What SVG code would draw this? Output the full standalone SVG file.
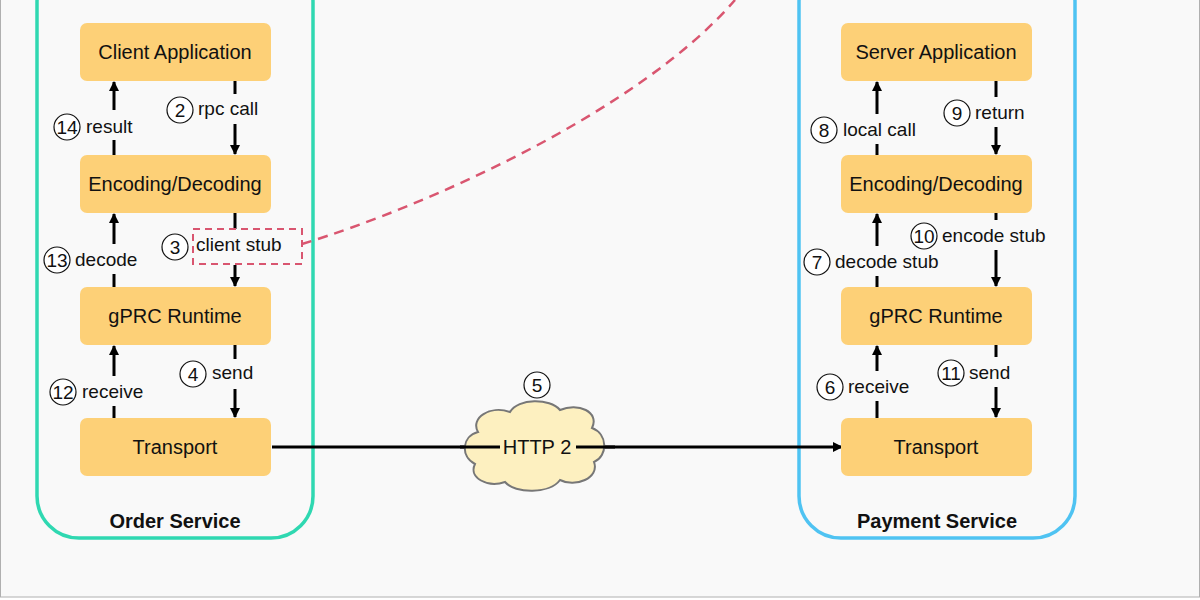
<svg xmlns="http://www.w3.org/2000/svg" width="1200" height="600" viewBox="0 0 1200 600">
<defs>
<marker id="ah" markerWidth="10" markerHeight="10" refX="9" refY="5" orient="auto" markerUnits="userSpaceOnUse"><path d="M0,0 L10,5 L0,10 Z" fill="#000"/></marker>
<style>
.box{fill:#fdd077;}
.bt{font-family:"Liberation Sans",Arial,sans-serif;font-size:20px;text-anchor:middle;fill:#111;}
.lb{font-family:"Liberation Sans",Arial,sans-serif;font-size:19px;fill:#111;}
.num{font-family:"Liberation Sans",Arial,sans-serif;font-size:19px;text-anchor:middle;fill:#111;}
.nc{fill:#fff;stroke:#111;stroke-width:1.2;}
.ar{stroke:#000;stroke-width:3;fill:none;marker-end:url(#ah);}
.ttl{font-family:"Liberation Sans",Arial,sans-serif;font-size:20px;font-weight:bold;text-anchor:middle;fill:#111;}
.bg{fill:#f9f9f9;}
</style>
</defs>
<rect x="0.5" y="-5" width="1199" height="602" fill="#f9f9f9" stroke="#b0b0b0"/>
<g id="order-service"><rect x="37" y="-40" width="276" height="578" rx="42" fill="#fff" fill-opacity="0" stroke="#2fd8b1" stroke-width="3.5"/><text class="ttl" x="175" y="528">Order Service</text></g>
<g id="payment-service"><rect x="799" y="-40" width="276" height="578" rx="42" fill="none" stroke="#4fc3f2" stroke-width="3.5"/><text class="ttl" x="937" y="528">Payment Service</text></g>
<g id="connectors">
<line class="ar" x1="114" y1="155" x2="114" y2="82"/>
<line class="ar" x1="235" y1="81" x2="235" y2="154"/>
<line class="ar" x1="114" y1="287" x2="114" y2="214"/>
<line class="ar" x1="235" y1="213" x2="235" y2="286"/>
<line class="ar" x1="114" y1="418" x2="114" y2="346"/>
<line class="ar" x1="235" y1="345" x2="235" y2="417"/>
<line class="ar" x1="877" y1="155" x2="877" y2="82"/>
<line class="ar" x1="996" y1="81" x2="996" y2="154"/>
<line class="ar" x1="877" y1="287" x2="877" y2="214"/>
<line class="ar" x1="996" y1="213" x2="996" y2="286"/>
<line class="ar" x1="877" y1="418" x2="877" y2="346"/>
<line class="ar" x1="996" y1="345" x2="996" y2="417"/>
<line class="ar" x1="272" y1="447" x2="842" y2="447"/>
<path d="M302,244 C430,205 640,110 735,0" fill="none" stroke="#d95670" stroke-width="2.5" stroke-dasharray="10,7"/>
</g>
<g id="client-app"><rect class="box" x="80" y="23" width="191" height="58" rx="7"/><text class="bt" x="175" y="59">Client Application</text></g>
<g id="enc-left"><rect class="box" x="80" y="155" width="191" height="58" rx="7"/><text class="bt" x="175" y="191">Encoding/Decoding</text></g>
<g id="grpc-left"><rect class="box" x="80" y="287" width="191" height="58" rx="7"/><text class="bt" x="175" y="323">gPRC Runtime</text></g>
<g id="transport-left"><rect class="box" x="80" y="418" width="191" height="58" rx="7"/><text class="bt" x="175" y="454">Transport</text></g>
<g id="server-app"><rect class="box" x="841" y="23" width="191" height="58" rx="7"/><text class="bt" x="936" y="59">Server Application</text></g>
<g id="enc-right"><rect class="box" x="841" y="155" width="191" height="58" rx="7"/><text class="bt" x="936" y="191">Encoding/Decoding</text></g>
<g id="grpc-right"><rect class="box" x="841" y="287" width="191" height="58" rx="7"/><text class="bt" x="936" y="323">gPRC Runtime</text></g>
<g id="transport-right"><rect class="box" x="841" y="418" width="191" height="58" rx="7"/><text class="bt" x="936" y="454">Transport</text></g>
<g id="cloud">
<path d="M478,432 C470,418 490,405 510,412 C518,398 550,398 560,410 C578,402 600,412 592,428 C608,434 608,456 594,462 C600,478 575,488 560,480 C550,494 515,494 505,482 C488,488 468,478 475,464 C460,456 462,436 478,432 Z" fill="#fdf0c0" stroke="#777" stroke-width="2"/>
<line x1="460" y1="447" x2="500" y2="447" stroke="#000" stroke-width="3"/>
<line x1="576" y1="447" x2="615" y2="447" stroke="#000" stroke-width="3"/>
<text class="bt" x="537" y="454">HTTP 2</text>
<circle class="nc" cx="537" cy="385" r="13"/><text class="num" x="537" y="392">5</text>
</g>
<g id="labels">
<rect class="bg" x="52" y="110" width="90" height="30"/>
<circle class="nc" cx="67" cy="127" r="13"/><text class="num" x="67" y="134">14</text><text class="lb" x="86" y="133">result</text>
<rect class="bg" x="166" y="94" width="104" height="30"/>
<circle class="nc" cx="180" cy="110" r="13"/><text class="num" x="180" y="117">2</text><text class="lb" x="198" y="115">rpc call</text>
<rect class="bg" x="43" y="244" width="108" height="30"/>
<circle class="nc" cx="57" cy="260" r="13"/><text class="num" x="57" y="267">13</text><text class="lb" x="75" y="266">decode</text>
<rect class="bg" x="161" y="229" width="142" height="36"/>
<circle class="nc" cx="175" cy="247" r="13"/><text class="num" x="175" y="254">3</text>
<rect x="193" y="229" width="109" height="35" fill="none" stroke="#d95670" stroke-width="2" stroke-dasharray="7,5"/>
<text class="lb" x="196" y="251">client stub</text>
<rect class="bg" x="48" y="376" width="110" height="30"/>
<circle class="nc" cx="63" cy="392" r="13"/><text class="num" x="63" y="399">12</text><text class="lb" x="82" y="398">receive</text>
<rect class="bg" x="179" y="359" width="82" height="30"/>
<circle class="nc" cx="193" cy="374" r="13"/><text class="num" x="193" y="381">4</text><text class="lb" x="212" y="379">send</text>
<rect class="bg" x="810" y="114" width="120" height="30"/>
<circle class="nc" cx="824" cy="130" r="13"/><text class="num" x="824" y="137">8</text><text class="lb" x="843" y="136">local call</text>
<rect class="bg" x="943" y="97" width="90" height="30"/>
<circle class="nc" cx="957" cy="113" r="13"/><text class="num" x="957" y="120">9</text><text class="lb" x="975" y="119">return</text>
<rect class="bg" x="803" y="246" width="150" height="30"/>
<circle class="nc" cx="817" cy="262" r="13"/><text class="num" x="817" y="269">7</text><text class="lb" x="835" y="268">decode stub</text>
<rect class="bg" x="910" y="220" width="150" height="30"/>
<circle class="nc" cx="924" cy="236" r="13"/><text class="num" x="924" y="243">10</text><text class="lb" x="942" y="242">encode stub</text>
<rect class="bg" x="816" y="371" width="104" height="30"/>
<circle class="nc" cx="830" cy="387" r="13"/><text class="num" x="830" y="394">6</text><text class="lb" x="848" y="393">receive</text>
<rect class="bg" x="937" y="357" width="82" height="30"/>
<circle class="nc" cx="951" cy="373" r="13"/><text class="num" x="951" y="380">11</text><text class="lb" x="969" y="379">send</text>
</g>
</svg>
